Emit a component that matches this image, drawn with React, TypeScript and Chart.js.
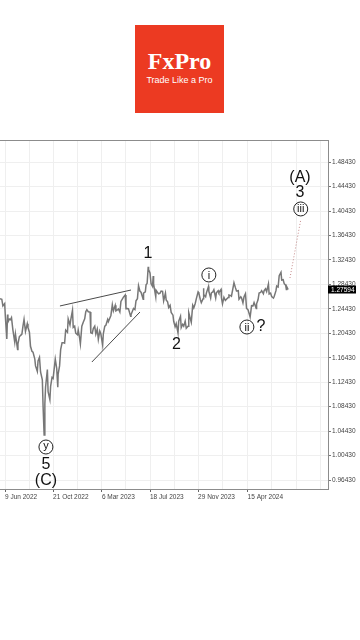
import React, { useEffect, useRef } from 'react';
import { Chart, registerables } from 'chart.js';
Chart.register(...registerables);

const priceDates = [
  '2022-05-26','2022-05-31','2022-06-03','2022-06-08','2022-06-10','2022-06-14','2022-06-16','2022-06-17','2022-06-21','2022-06-24',
  '2022-06-27','2022-07-01','2022-07-06','2022-07-08','2022-07-14','2022-07-15','2022-07-19','2022-07-22','2022-07-26','2022-07-29',
  '2022-08-01','2022-08-05','2022-08-10','2022-08-12','2022-08-16','2022-08-19','2022-08-23','2022-08-26','2022-08-31','2022-09-02',
  '2022-09-07','2022-09-09','2022-09-13','2022-09-16','2022-09-21','2022-09-23','2022-09-26','2022-09-28','2022-09-30','2022-10-05',
  '2022-10-07','2022-10-12','2022-10-14','2022-10-18','2022-10-21','2022-10-27','2022-10-31','2022-11-03','2022-11-04','2022-11-08',
  '2022-11-11','2022-11-15','2022-11-18','2022-11-22','2022-11-25','2022-11-30','2022-12-02','2022-12-07','2022-12-09','2022-12-14',
  '2022-12-16','2022-12-20','2022-12-23','2022-12-28','2022-12-30','2023-01-03','2023-01-05','2023-01-09','2023-01-13','2023-01-17',
  '2023-01-20','2023-01-23','2023-01-27','2023-02-01','2023-02-03','2023-02-07','2023-02-10','2023-02-14','2023-02-17','2023-02-21',
  '2023-02-24','2023-02-28','2023-03-03','2023-03-08','2023-03-10','2023-03-14','2023-03-17','2023-03-22','2023-03-24','2023-03-31',
  '2023-04-04','2023-04-07','2023-04-12','2023-04-14','2023-04-19','2023-04-21','2023-04-25','2023-04-28','2023-05-05','2023-05-10',
  '2023-05-12','2023-05-17','2023-05-19','2023-05-25','2023-05-26','2023-06-02','2023-06-06','2023-06-09','2023-06-13','2023-06-16',
  '2023-06-20','2023-06-23','2023-06-29','2023-06-30','2023-07-05','2023-07-07','2023-07-10','2023-07-13','2023-07-14','2023-07-18',
  '2023-07-21','2023-07-25','2023-07-27','2023-07-28','2023-08-03','2023-08-04','2023-08-08','2023-08-11','2023-08-15','2023-08-18',
  '2023-08-22','2023-08-25','2023-08-30','2023-09-01','2023-09-05','2023-09-08','2023-09-12','2023-09-15','2023-09-20','2023-09-22',
  '2023-09-26','2023-09-29','2023-10-04','2023-10-06','2023-10-11','2023-10-13','2023-10-17','2023-10-20','2023-10-24','2023-10-27',
  '2023-11-01','2023-11-03','2023-11-07','2023-11-10','2023-11-14','2023-11-17','2023-11-21','2023-11-24','2023-11-29','2023-12-01',
  '2023-12-05','2023-12-08','2023-12-13','2023-12-14','2023-12-15','2023-12-20','2023-12-22','2023-12-28','2023-12-29','2024-01-03',
  '2024-01-05','2024-01-09','2024-01-12','2024-01-17','2024-01-19','2024-01-24','2024-01-26','2024-02-01','2024-02-02','2024-02-05',
  '2024-02-09','2024-02-13','2024-02-16','2024-02-21','2024-02-23','2024-02-28','2024-03-01','2024-03-08','2024-03-12','2024-03-15',
  '2024-03-20','2024-03-22','2024-03-27','2024-03-29','2024-04-02','2024-04-05','2024-04-09','2024-04-12','2024-04-16','2024-04-19',
  '2024-04-22','2024-04-26','2024-04-30','2024-05-03','2024-05-09','2024-05-10','2024-05-14','2024-05-17','2024-05-21','2024-05-24',
  '2024-05-29','2024-05-31','2024-06-04','2024-06-07','2024-06-12','2024-06-14','2024-06-18','2024-06-21','2024-06-26','2024-06-28',
  '2024-07-03','2024-07-05','2024-07-09','2024-07-12','2024-07-17','2024-07-19','2024-07-23','2024-07-26','2024-07-30','2024-08-01',
  '2024-08-02','2024-08-06',
];
const prices = [
  1.2610,1.2600,1.2490,1.2530,1.2310,1.1950,1.2350,1.2225,1.2275,1.2265,
  1.2300,1.2095,1.1900,1.2030,1.1780,1.1870,1.1990,1.2005,1.2030,1.2160,
  1.2270,1.2075,1.2200,1.2135,1.2060,1.1830,1.1750,1.1735,1.1620,1.1510,
  1.1420,1.1590,1.1650,1.1410,1.1280,1.0860,1.0380,1.0890,1.1165,1.1450,
  1.1090,1.0960,1.1175,1.1320,1.1305,1.1620,1.1470,1.1160,1.1375,1.1510,
  1.1775,1.1890,1.1890,1.1880,1.2095,1.2060,1.2280,1.2180,1.2260,1.2420,
  1.2140,1.2160,1.2045,1.2020,1.2095,1.1960,1.1870,1.2160,1.2225,1.2280,
  1.2395,1.2430,1.2395,1.2390,1.2050,1.2040,1.2120,1.2160,1.2030,1.2110,
  1.1945,1.2080,1.2035,1.1850,1.2040,1.2160,1.2175,1.2270,1.2235,1.2335,
  1.2510,1.2410,1.2500,1.2410,1.2430,1.2440,1.2390,1.2565,1.2635,1.2670,
  1.2445,1.2450,1.2445,1.2320,1.2345,1.2450,1.2430,1.2575,1.2610,1.2820,
  1.2730,1.2715,1.2600,1.2700,1.2720,1.2835,1.2860,1.3130,1.3085,1.3030,
  1.2855,1.2810,1.2980,1.2850,1.2640,1.2745,1.2710,1.2690,1.2700,1.2735,
  1.2730,1.2575,1.2700,1.2590,1.2560,1.2465,1.2500,1.2385,1.2340,1.2240,
  1.2150,1.2200,1.2050,1.2240,1.2320,1.2135,1.2190,1.2160,1.2240,1.2125,
  1.2160,1.2380,1.2290,1.2225,1.2500,1.2460,1.2530,1.2605,1.2720,1.2705,
  1.2600,1.2545,1.2610,1.2780,1.2680,1.2640,1.2700,1.2810,1.2730,1.2620,
  1.2705,1.2720,1.2755,1.2620,1.2705,1.2740,1.2710,1.2760,1.2630,1.2525,
  1.2630,1.2580,1.2600,1.2630,1.2670,1.2660,1.2650,1.2870,1.2790,1.2735,
  1.2740,1.2600,1.2640,1.2625,1.2540,1.2640,1.2690,1.2450,1.2430,1.2370,
  1.2310,1.2495,1.2490,1.2545,1.2450,1.2525,1.2590,1.2700,1.2710,1.2740,
  1.2690,1.2740,1.2770,1.2725,1.2850,1.2685,1.2700,1.2645,1.2620,1.2645,
  1.2740,1.2815,1.2800,1.2985,1.3040,1.2915,1.2920,1.2855,1.2830,1.2760,
  1.2805,1.27594,
];

const viewStart = '2022-05-26';
const viewEnd = '2024-11-25';
const tickDates = ['2022-06-09', '2022-10-21', '2023-03-06', '2023-07-18', '2023-11-29', '2024-04-15'];
const tickLabels = ['9 Jun 2022', '21 Oct 2022', '6 Mar 2023', '18 Jul 2023', '29 Nov 2023', '15 Apr 2024'];
const priceTicks = [0.9643, 1.0043, 1.0443, 1.0843, 1.1243, 1.1643, 1.2043, 1.2443, 1.2843, 1.3243, 1.3643, 1.4043, 1.4443, 1.4843];
const priceMin = 0.9496;
const priceMax = 1.5205;
const lastPrice = 1.27594;

// Elliott wave labels
const waveTexts = ['1', '2', '(A)', '3', '5', '(C)', '?'];
const waveDates = ['2023-07-12', '2023-09-30', '2024-09-08', '2024-09-08', '2022-10-01', '2022-10-01', '2024-05-22'];
const waveValues = [1.3340, 1.1852, 1.4584, 1.4338, 0.9888, 0.9627, 1.2146];
const circleTexts = ['iii', 'i', 'ii', 'y'];
const circleDates = ['2024-09-10', '2023-12-29', '2024-04-13', '2022-10-01'];
const circleValues = [1.4077, 1.2997, 1.2146, 1.0183];

// Trend lines (solid) and projection (dotted)
const lineFromDates = ['2022-11-09', '2023-02-06'];
const lineFromValues = [1.2490, 1.1573];
const lineToDates = ['2023-05-26', '2023-06-20'];
const lineToValues = [1.2751, 1.2391];
const projFromDate = '2024-08-11';
const projFromValue = 1.2948;
const projToDate = '2024-09-10';
const projToValue = 1.3897;

const toDay = (s: string) => Date.UTC(+s.slice(0, 4), +s.slice(5, 7) - 1, +s.slice(8, 10)) / 86400000;
const SANS = '"Liberation Sans", Arial, sans-serif';

export default function App() {
  const ref = useRef<HTMLCanvasElement>(null);

  useEffect(() => {
    document.body.style.margin = '0';
    const canvas = ref.current;
    if (!canvas) return;
    const xMin = toDay(viewStart);
    const xMax = toDay(viewEnd);
    const tickDays = tickDates.map(toDay);
    const gridDays: number[] = [];
    for (let i = 0; i < tickDays.length; i++) {
      gridDays.push(tickDays[i]);
      if (i < tickDays.length - 1) gridDays.push((tickDays[i] + tickDays[i + 1]) / 2);
    }
    const half = (tickDays[tickDays.length - 1] - tickDays[0]) / (2 * (tickDays.length - 1));
    for (let g = tickDays[tickDays.length - 1] + half; g < xMax; g += half) gridDays.push(g);
    for (let g = tickDays[0] - half; g > xMin; g -= half) gridDays.unshift(g);
    const isMajor = (v: number) => tickDays.some((d) => Math.abs(d - v) < 0.01);

    const data = priceDates.map((d, i) => ({ x: toDay(d), y: prices[i] }));

    const overlay = {
      id: 'overlay',
      afterDatasetsDraw(chart: any) {
        const { ctx, chartArea } = chart;
        const xs = chart.scales.x;
        const ys = chart.scales.y;
        const px = (d: string) => xs.getPixelForValue(toDay(d));
        const py = (v: number) => ys.getPixelForValue(v);
        ctx.save();
        // top frame line
        ctx.strokeStyle = '#8c8c8c';
        ctx.lineWidth = 1;
        ctx.beginPath();
        ctx.moveTo(chartArea.left, Math.round(chartArea.top) + 0.5);
        ctx.lineTo(chartArea.right, Math.round(chartArea.top) + 0.5);
        ctx.stroke();
        // trend lines
        ctx.strokeStyle = '#4a4a4a';
        ctx.lineWidth = 1;
        for (let i = 0; i < lineFromDates.length; i++) {
          ctx.beginPath();
          ctx.moveTo(px(lineFromDates[i]), py(lineFromValues[i]));
          ctx.lineTo(px(lineToDates[i]), py(lineToValues[i]));
          ctx.stroke();
        }
        // dotted projection
        ctx.strokeStyle = '#c48a8a';
        ctx.setLineDash([1, 2]);
        ctx.beginPath();
        ctx.moveTo(px(projFromDate), py(projFromValue));
        ctx.lineTo(px(projToDate), py(projToValue));
        ctx.stroke();
        ctx.setLineDash([]);
        // wave labels
        ctx.fillStyle = '#111';
        ctx.textAlign = 'center';
        ctx.textBaseline = 'middle';
        ctx.font = `16px ${SANS}`;
        for (let i = 0; i < waveTexts.length; i++) {
          ctx.fillText(waveTexts[i], px(waveDates[i]), py(waveValues[i]));
        }
        // circled labels
        for (let i = 0; i < circleTexts.length; i++) {
          const cx = px(circleDates[i]);
          const cy = py(circleValues[i]);
          ctx.strokeStyle = '#222';
          ctx.lineWidth = 1;
          ctx.beginPath();
          ctx.arc(cx, cy, 7, 0, Math.PI * 2);
          ctx.stroke();
          ctx.font = `11px ${SANS}`;
          ctx.fillText(circleTexts[i], cx, cy + (circleTexts[i] === 'y' ? -1 : 0.5));
        }
        // last price box
        const ly = py(lastPrice);
        ctx.fillStyle = '#000';
        ctx.fillRect(chartArea.right, ly - 4, 28, 8);
        ctx.fillStyle = '#fff';
        ctx.font = `6.5px ${SANS}`;
        ctx.textAlign = 'left';
        ctx.fillText(lastPrice.toFixed(5), chartArea.right + 3, ly + 0.5);
        ctx.restore();
      },
    };

    const chart = new Chart(canvas, {
      type: 'line',
      data: {
        datasets: [
          {
            data,
            borderColor: '#777777',
            borderWidth: 1.5,
            pointRadius: 0,
            tension: 0,
          },
        ],
      },
      options: {
        responsive: false,
        animation: false,
        devicePixelRatio: 1,
        layout: { padding: { top: 140, bottom: 131, left: 0, right: 0 } },
        plugins: { legend: { display: false }, tooltip: { enabled: false } },
        scales: {
          x: {
            type: 'linear',
            min: xMin,
            max: xMax,
            afterBuildTicks: (s: any) => {
              s.ticks = gridDays.map((v) => ({ value: v }));
            },
            afterFit: (s: any) => {
              s.height = 20;
            },
            grid: {
              color: '#efefef',
              lineWidth: 1,
              drawTicks: true,
              tickLength: 3,
              tickColor: (c: any) => (c.tick && isMajor(c.tick.value) ? '#666' : 'rgba(0,0,0,0)'),
            },
            border: { color: '#8c8c8c', width: 1 },
            ticks: {
              autoSkip: false,
              maxRotation: 0,
              minRotation: 0,
              align: 'start',
              padding: 1,
              color: '#444',
              font: { family: SANS, size: 6.5 },
              callback: (v: any) => {
                const idx = tickDays.findIndex((d) => Math.abs(d - Number(v)) < 0.01);
                return idx >= 0 ? tickLabels[idx] : '';
              },
            },
          },
          y: {
            position: 'right',
            min: priceMin,
            max: priceMax,
            afterBuildTicks: (s: any) => {
              s.ticks = priceTicks.map((v) => ({ value: v }));
            },
            afterFit: (s: any) => {
              s.width = 32;
            },
            grid: { color: '#efefef', lineWidth: 1, tickLength: 3, tickColor: '#777' },
            border: { color: '#8c8c8c', width: 1 },
            ticks: {
              padding: 1,
              color: '#444',
              font: { family: SANS, size: 6.5 },
              callback: (v: any) => Number(v).toFixed(5),
            },
          },
        },
      },
      plugins: [overlay],
    } as any);
    return () => chart.destroy();
  }, []);

  return (
    <div style={{ position: 'relative', width: 360, height: 640, background: '#fff', overflow: 'hidden' }}>
      <canvas ref={ref} width={360} height={640} style={{ position: 'absolute', left: 0, top: 0, width: 360, height: 640 }} />
      <div style={{ position: 'absolute', left: 135, top: 25, width: 89, height: 88, background: '#ec3a22' }}>
        <div
          style={{
            position: 'absolute', left: 0, right: 0, top: 24.2, textAlign: 'center', color: '#fff',
            fontFamily: '"Liberation Serif", "DejaVu Serif", serif', fontWeight: 'bold', fontSize: 24, lineHeight: '24px',
          }}
        >
          FxPro
        </div>
        <div
          style={{
            position: 'absolute', left: 0, right: 0, top: 51.4, textAlign: 'center', color: '#fff',
            fontFamily: SANS, fontSize: 9, lineHeight: '9px', whiteSpace: 'nowrap',
          }}
        >
          Trade Like a Pro
        </div>
      </div>
    </div>
  );
}
